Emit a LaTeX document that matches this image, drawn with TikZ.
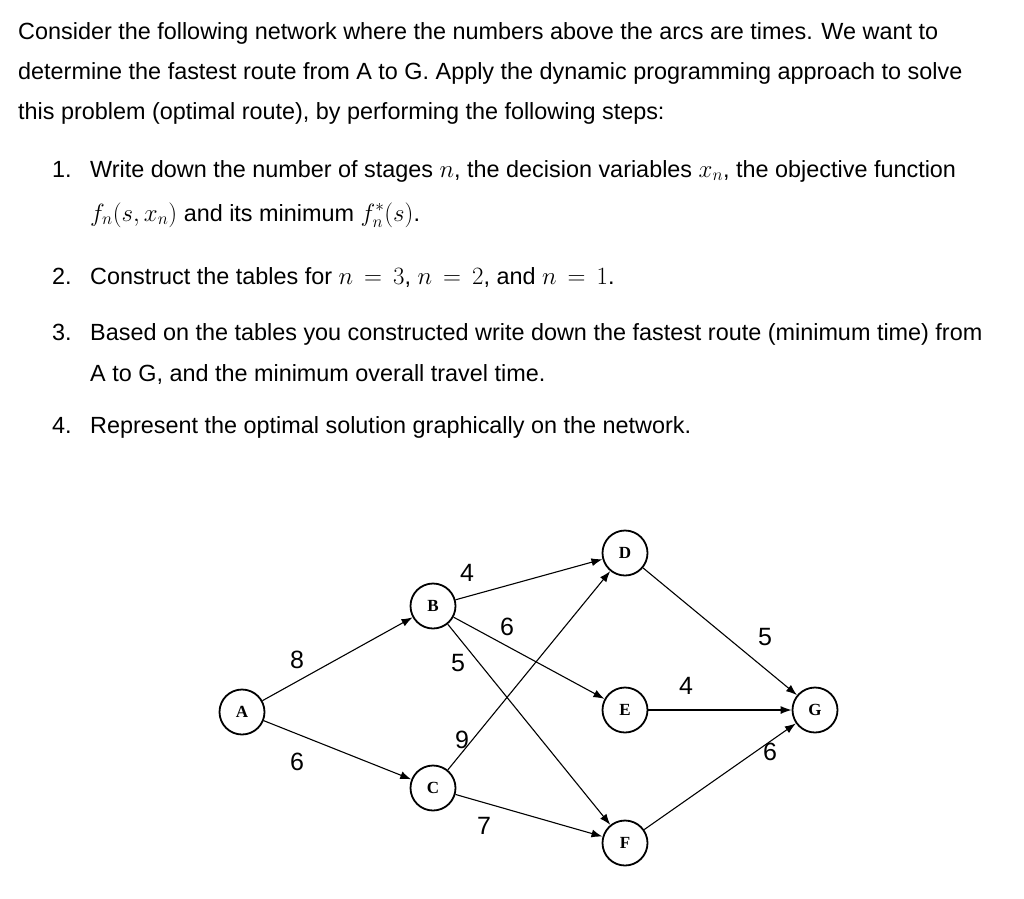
\documentclass[tikz,border=0pt]{standalone}
\usepackage{fontspec}
\setmainfont{Liberation Sans}
\newfontfamily\myserif{Liberation Serif}
\usetikzlibrary{arrows.meta}
\begin{document}
\begin{tikzpicture}[x=1pt,y=-1pt,
 txt/.style={anchor=base west,inner sep=0pt,font=\fontsize{23.4}{28}\selectfont},
 st/.style={circle,draw,line width=1.8pt,minimum size=45pt,inner sep=0pt,font=\fontsize{17}{20}\selectfont\bfseries\myserif},
 lab/.style={font=\fontsize{25}{30}\selectfont,inner sep=1pt},
 ar/.style={-{Latex[length=11pt,width=8pt]},line width=1.1pt}]
\useasboundingbox (0,0) rectangle (1024,898);
\node[txt] (t1) at (18,39) {Consider the following network where the numbers above the arcs are times. We want to};
\node[txt] (t2) at (18,79) {determine the fastest route from A to G. Apply the dynamic programming approach to solve};
\node[txt] (t3) at (18,119) {this problem (optimal route), by performing the following steps:};
\node[txt] (i1n) at (52,177) {1.};
\node[txt] (i1) at (90,177) {Write down the number of stages $n$, the decision variables $x_n$, the objective function};
\node[txt] (i1b) at (90,221) {$f_n(s,x_n)$ and its minimum $f_n^*(s)$.};
\node[txt] (i2n) at (52,284) {2.};
\node[txt] (i2) at (90,284) {Construct the tables for $n\,=\,3$, $n\,=\,2$, and $n\,=\,1$.};
\node[txt] (i3n) at (52,340) {3.};
\node[txt] (i3) at (90,340) {Based on the tables you constructed write down the fastest route (minimum time) from};
\node[txt] (i3b) at (90,381) {A to G, and the minimum overall travel time.};
\node[txt] (i4n) at (52,433) {4.};
\node[txt] (i4) at (90,433) {Represent the optimal solution graphically on the network.};
\node[st] (A) at (242,712) {A};
\node[st] (B) at (433,606) {B};
\node[st] (C) at (433,788) {C};
\node[st] (D) at (625,553) {D};
\node[st] (E) at (625,710) {E};
\node[st] (F) at (625,843) {F};
\node[st] (G) at (815,710) {G};
\draw[ar] (A) -- (B);
\draw[ar] (A) -- (C);
\draw[ar] (B) -- (D);
\draw[ar] (B) -- (E);
\draw[ar] (B) -- (F);
\draw[ar] (C) -- (D);
\draw[ar] (C) -- (F);
\draw[ar] (D) -- (G);
\draw[ar] (E) -- (G);
\draw[ar] (F) -- (G);
\node[lab] (l1) at (297,660) {8};
\node[lab] (l2) at (297,762) {6};
\node[lab] (l3) at (467,573) {4};
\node[lab] (l4) at (507,627) {6};
\node[lab] (l5) at (458,663) {5};
\node[lab] (l6) at (462,740) {9};
\node[lab] (l7) at (484,826) {7};
\node[lab] (l8) at (686,686) {4};
\node[lab] (l9) at (765,637) {5};
\node[lab] (l10) at (770,752) {6};
\end{tikzpicture}
\end{document}
